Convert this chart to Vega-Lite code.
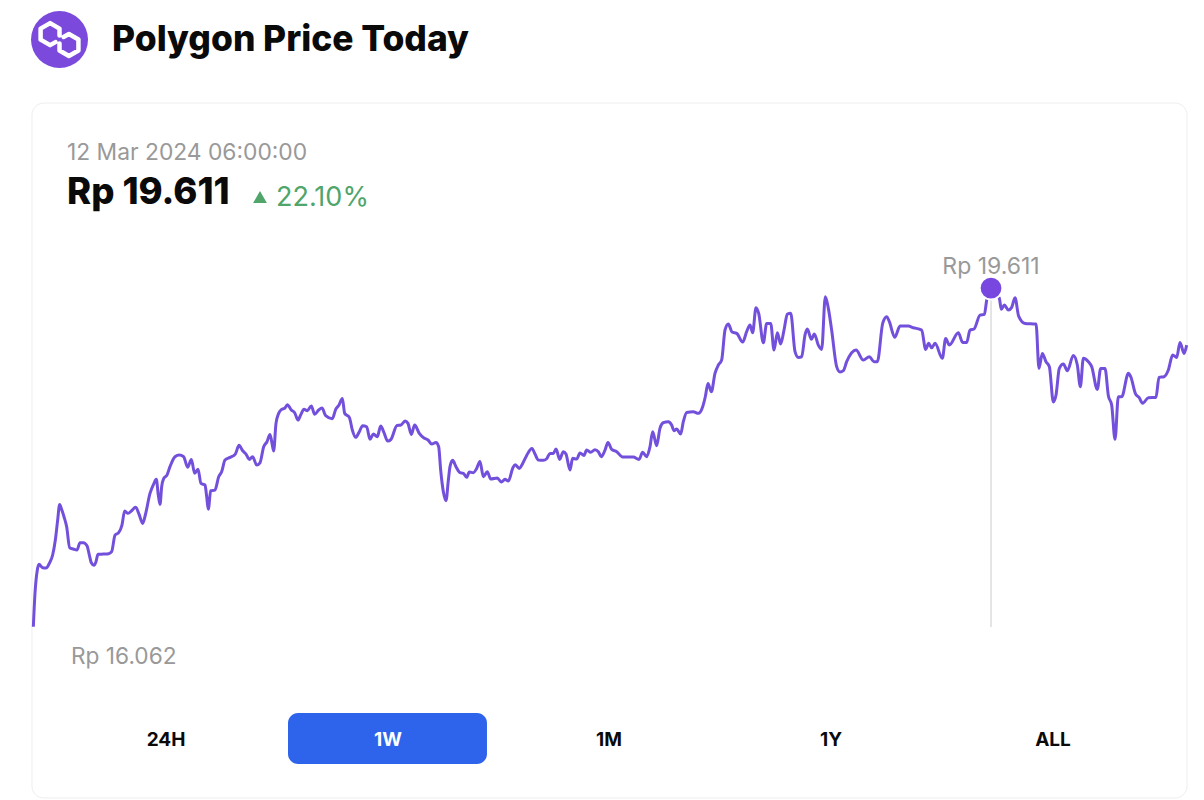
{
  "$schema": "https://vega.github.io/schema/vega-lite/v6.json",
  "autosize": {"type": "fit", "contains": "padding"},
  "width": 1204,
  "height": 800,
  "padding": 0,
  "background": "white",
  "config": {"view": {"stroke": null}, "text": {"font": "Inter"}},
  "data": {"values": [{}]},
  "datasets": {
    "marker": [{"hour": 139.45, "price": 19611, "low": 16062, "label": "Rp 19.611"}],
    "prices": [
      {"hour":0.05,"price":16065},{"hour":0.29,"price":16414},{"hour":0.63,"price":16659},{"hour":0.87,"price":16718},{"hour":1.41,"price":16683},{"hour":1.89,"price":16680},{"hour":2.38,"price":16729},{"hour":2.86,"price":16816},{"hour":3.25,"price":16973},{"hour":3.59,"price":17182},{"hour":3.88,"price":17346},{"hour":4.12,"price":17304},{"hour":4.51,"price":17217},{"hour":4.9,"price":17112},{"hour":5.34,"price":16892},{"hour":5.87,"price":16879},{"hour":6.4,"price":16868},{"hour":6.84,"price":16945},{"hour":7.33,"price":16945},{"hour":7.86,"price":16913},{"hour":8.2,"price":16816},{"hour":8.49,"price":16735},{"hour":8.88,"price":16708},{"hour":9.17,"price":16746},{"hour":9.46,"price":16823},{"hour":10.24,"price":16826},{"hour":11.01,"price":16830},{"hour":11.45,"price":16851},{"hour":11.94,"price":17025},{"hour":12.47,"price":17050},{"hour":12.95,"price":17130},{"hour":13.34,"price":17276},{"hour":13.83,"price":17252},{"hour":14.36,"price":17280},{"hour":14.94,"price":17315},{"hour":15.43,"price":17245},{"hour":15.96,"price":17147},{"hour":16.35,"price":17235},{"hour":17.03,"price":17461},{"hour":17.56,"price":17559},{"hour":17.95,"price":17608},{"hour":18.24,"price":17444},{"hour":18.49,"price":17346},{"hour":18.73,"price":17531},{"hour":19.02,"price":17615},{"hour":19.5,"price":17653},{"hour":19.94,"price":17741},{"hour":20.67,"price":17845},{"hour":21.3,"price":17863},{"hour":21.93,"price":17845},{"hour":22.51,"price":17734},{"hour":23.05,"price":17817},{"hour":23.53,"price":17671},{"hour":24.02,"price":17713},{"hour":24.45,"price":17566},{"hour":25.04,"price":17549},{"hour":25.28,"price":17427},{"hour":25.52,"price":17294},{"hour":25.86,"price":17489},{"hour":26.49,"price":17496},{"hour":27.03,"price":17636},{"hour":27.46,"price":17688},{"hour":27.95,"price":17810},{"hour":28.68,"price":17838},{"hour":29.45,"price":17873},{"hour":29.99,"price":17964},{"hour":30.52,"price":17908},{"hour":31.0,"price":17873},{"hour":31.49,"price":17817},{"hour":31.97,"price":17845},{"hour":32.56,"price":17758},{"hour":33.04,"price":17782},{"hour":33.58,"price":17950},{"hour":34.06,"price":18002},{"hour":34.5,"price":18079},{"hour":34.79,"price":17985},{"hour":35.03,"price":17905},{"hour":35.37,"price":18194},{"hour":35.76,"price":18299},{"hour":36.2,"price":18341},{"hour":36.68,"price":18355},{"hour":37.02,"price":18390},{"hour":37.6,"price":18334},{"hour":38.09,"price":18306},{"hour":38.57,"price":18229},{"hour":38.96,"price":18282},{"hour":39.45,"price":18341},{"hour":39.93,"price":18327},{"hour":40.51,"price":18376},{"hour":41.0,"price":18289},{"hour":41.58,"price":18334},{"hour":42.07,"price":18355},{"hour":42.6,"price":18275},{"hour":43.57,"price":18243},{"hour":44.06,"price":18341},{"hour":44.54,"price":18386},{"hour":45.03,"price":18456},{"hour":45.37,"price":18299},{"hour":46.05,"price":18257},{"hour":46.48,"price":18125},{"hour":46.97,"price":18048},{"hour":47.45,"price":18100},{"hour":47.99,"price":18170},{"hour":48.57,"price":18159},{"hour":49.05,"price":18027},{"hour":49.54,"price":18083},{"hour":50.12,"price":18055},{"hour":50.61,"price":18166},{"hour":51.09,"price":18097},{"hour":51.63,"price":18009},{"hour":52.11,"price":18027},{"hour":52.98,"price":18173},{"hour":53.57,"price":18177},{"hour":54.15,"price":18219},{"hour":54.58,"price":18194},{"hour":55.07,"price":18079},{"hour":55.55,"price":18177},{"hour":56.23,"price":18090},
      {"hour":56.91,"price":18041},{"hour":57.5,"price":18020},{"hour":58.03,"price":17978},{"hour":58.66,"price":17995},{"hour":59.05,"price":17950},{"hour":59.34,"price":17706},{"hour":59.73,"price":17479},{"hour":60.12,"price":17385},{"hour":60.46,"price":17601},{"hour":60.7,"price":17741},{"hour":61.09,"price":17807},{"hour":61.57,"price":17741},{"hour":62.15,"price":17678},{"hour":62.64,"price":17671},{"hour":63.12,"price":17629},{"hour":63.51,"price":17685},{"hour":64.09,"price":17678},{"hour":64.58,"price":17723},{"hour":65.06,"price":17796},{"hour":65.55,"price":17636},{"hour":66.13,"price":17688},{"hour":66.62,"price":17611},{"hour":67.59,"price":17622},{"hour":68.17,"price":17580},{"hour":68.7,"price":17608},{"hour":69.19,"price":17591},{"hour":69.82,"price":17723},{"hour":70.16,"price":17762},{"hour":70.79,"price":17723},{"hour":71.28,"price":17775},{"hour":71.86,"price":17859},{"hour":72.63,"price":17932},{"hour":73.07,"price":17873},{"hour":73.56,"price":17810},{"hour":74.28,"price":17807},{"hour":74.77,"price":17824},{"hour":75.25,"price":17880},{"hour":75.74,"price":17880},{"hour":76.13,"price":17926},{"hour":76.66,"price":17817},{"hour":77.19,"price":17898},{"hour":77.58,"price":17873},{"hour":78.16,"price":17706},{"hour":78.55,"price":17828},{"hour":79.14,"price":17821},{"hour":79.62,"price":17884},{"hour":80.2,"price":17859},{"hour":80.59,"price":17915},{"hour":81.17,"price":17891},{"hour":81.8,"price":17919},{"hour":82.29,"price":17898},{"hour":82.73,"price":17845},{"hour":83.26,"price":17915},{"hour":83.7,"price":17995},{"hour":84.23,"price":17922},{"hour":84.96,"price":17898},{"hour":85.83,"price":17842},{"hour":87.38,"price":17842},{"hour":88.21,"price":17817},{"hour":88.74,"price":17891},{"hour":89.32,"price":17845},{"hour":89.81,"price":17950},{"hour":90.2,"price":18107},{"hour":90.78,"price":17961},{"hour":91.26,"price":18142},{"hour":91.75,"price":18201},{"hour":92.48,"price":18212},{"hour":92.96,"price":18177},{"hour":93.3,"price":18118},{"hour":93.69,"price":18135},{"hour":94.27,"price":18083},{"hour":94.66,"price":18212},{"hour":95.15,"price":18309},{"hour":96.12,"price":18316},{"hour":96.84,"price":18299},{"hour":97.48,"price":18369},{"hour":97.86,"price":18473},{"hour":98.25,"price":18613},{"hour":98.74,"price":18526},{"hour":99.27,"price":18718},{"hour":99.76,"price":18805},{"hour":100.24,"price":18857},{"hour":100.73,"price":19172},{"hour":101.21,"price":19234},{"hour":101.75,"price":19151},{"hour":102.43,"price":19137},{"hour":103.3,"price":19046},{"hour":103.88,"price":19154},{"hour":104.37,"price":19224},{"hour":104.75,"price":19144},{"hour":105.24,"price":19405},{"hour":105.63,"price":19346},{"hour":106.31,"price":19039},{"hour":106.79,"price":19241},{"hour":107.38,"price":19241},{"hour":107.86,"price":18962},{"hour":108.35,"price":19144},{"hour":108.83,"price":19025},{"hour":109.32,"price":19172},{"hour":109.8,"price":19339},{"hour":110.29,"price":19346},{"hour":110.92,"price":18945},{"hour":111.4,"price":18885},
      {"hour":111.89,"price":18892},{"hour":112.37,"price":19119},{"hour":112.71,"price":19182},{"hour":113.3,"price":19074},{"hour":113.73,"price":19130},{"hour":114.31,"price":19014},{"hour":114.8,"price":18969},{"hour":115.33,"price":19520},{"hour":115.77,"price":19398},{"hour":116.25,"price":19171},{"hour":116.98,"price":18788},{"hour":117.47,"price":18732},{"hour":117.95,"price":18746},{"hour":118.44,"price":18840},{"hour":119.8,"price":18962},{"hour":120.86,"price":18857},{"hour":121.74,"price":18892},{"hour":122.42,"price":18840},{"hour":122.9,"price":18840},{"hour":123.68,"price":19241},{"hour":124.26,"price":19311},{"hour":124.65,"price":19259},{"hour":125.43,"price":19095},{"hour":126.2,"price":19213},{"hour":127.41,"price":19213},{"hour":128.14,"price":19196},{"hour":129.35,"price":19171},{"hour":129.94,"price":18969},{"hour":130.37,"price":19032},{"hour":130.81,"price":18986},{"hour":131.3,"price":19032},{"hour":132.36,"price":18875},{"hour":132.85,"price":19084},{"hour":133.38,"price":19014},{"hour":134.69,"price":19143},{"hour":135.32,"price":19042},{"hour":135.91,"price":19042},{"hour":136.39,"price":19171},{"hour":136.97,"price":19182},{"hour":137.85,"price":19328},{"hour":138.48,"price":19335},{"hour":138.82,"price":19485},{"hour":139.45,"price":19611},{"hour":140.66,"price":19503},{"hour":140.95,"price":19388},{"hour":141.39,"price":19433},{"hour":141.97,"price":19381},{"hour":142.46,"price":19409},{"hour":142.94,"price":19510},{"hour":143.47,"price":19318},{"hour":144.4,"price":19241},{"hour":146.0,"price":19234},{"hour":146.43,"price":18770},{"hour":146.92,"price":18927},{"hour":147.45,"price":18840},{"hour":147.94,"price":18788},{"hour":148.52,"price":18418},{"hour":148.91,"price":18491},{"hour":149.39,"price":18770},{"hour":149.98,"price":18815},{"hour":150.56,"price":18746},{"hour":151.43,"price":18906},{"hour":152.01,"price":18805},{"hour":152.45,"price":18578},{"hour":152.89,"price":18875},{"hour":153.62,"price":18840},{"hour":154.1,"price":18788},{"hour":154.92,"price":18550},{"hour":155.41,"price":18770},{"hour":156.04,"price":18770},{"hour":156.53,"price":18484},{"hour":157.01,"price":18386},{"hour":157.5,"price":18027},{"hour":157.98,"price":18473},{"hour":158.47,"price":18473},{"hour":159.44,"price":18718},{"hour":159.78,"price":18683},{"hour":160.5,"price":18501},{"hour":160.99,"price":18466},{"hour":161.52,"price":18404},{"hour":162.35,"price":18463},{"hour":163.46,"price":18466},{"hour":163.9,"price":18676},{"hour":164.63,"price":18683},{"hour":165.26,"price":18753},{"hour":165.89,"price":18910},{"hour":166.47,"price":18885},{"hour":166.96,"price":19042},{"hour":167.54,"price":18927},{"hour":167.93,"price":19014}
    ]
  },
  "layer": [
    {
      "mark": {"type": "rect", "fill": "white", "stroke": "#eeeeee", "strokeWidth": 1, "cornerRadius": 12},
      "encoding": {
        "x": {"datum": -0.15, "type": "quantitative", "axis": null, "scale": {"domain": [-4.803, 170.45], "nice": false, "zero": false}},
        "x2": {"datum": 167.98},
        "y": {"datum": 21548, "type": "quantitative", "axis": null, "scale": {"domain": [14251, 22627], "nice": false, "zero": false}},
        "y2": {"datum": 14272}
      }
    },
    {
      "mark": {"type": "point", "shape": "circle", "filled": true, "size": 3249, "color": "#7B4ADD", "opacity": 1},
      "encoding": {"x": {"datum": 3.86}, "y": {"datum": 22213}}
    },
    {
      "mark": {
        "type": "point",
        "shape": "M0 -.2L0 -.545L-.47 -.82L-.946 -.545L-.946 .005L-.47 .28L-.2 .13M0 .2L0 .545L.47 .82L.946 .545L.946 -.005L.47 -.28L.2 -.13",
        "filled": false,
        "size": 1600,
        "stroke": "white",
        "strokeWidth": 4.5,
        "strokeJoin": "round",
        "strokeCap": "round",
        "opacity": 1
      },
      "encoding": {"x": {"datum": 3.86}, "y": {"datum": 22213}}
    },
    {
      "mark": {"type": "text", "align": "left", "baseline": "middle", "font": "Inter", "fontSize": 35.4, "fontWeight": 800, "color": "#0a0a0a"},
      "encoding": {"x": {"datum": 11.5}, "y": {"datum": 22208}, "text": {"value": "Polygon Price Today"}}
    },
    {
      "mark": {"type": "text", "align": "left", "baseline": "middle", "font": "Inter", "fontSize": 22.8, "color": "#999999"},
      "encoding": {"x": {"datum": 4.95}, "y": {"datum": 21025}, "text": {"value": "12 Mar 2024 06:00:00"}}
    },
    {
      "mark": {"type": "text", "align": "left", "baseline": "middle", "font": "Inter", "fontSize": 36.5, "fontWeight": 800, "color": "#0a0a0a"},
      "encoding": {"x": {"datum": 4.95}, "y": {"datum": 20606}, "text": {"value": "Rp 19.611"}}
    },
    {
      "mark": {"type": "point", "shape": "triangle-up", "filled": true, "size": 190, "color": "#4FA56A", "opacity": 1},
      "encoding": {"x": {"datum": 33.04}, "y": {"datum": 20564}}
    },
    {
      "mark": {"type": "text", "align": "left", "baseline": "middle", "font": "Inter", "fontSize": 27, "color": "#4FA56A"},
      "encoding": {"x": {"datum": 35.37}, "y": {"datum": 20554}, "text": {"value": "22.10%"}}
    },
    {
      "data": {"name": "marker"},
      "mark": {"type": "rule", "color": "#cccccc", "strokeWidth": 1},
      "encoding": {"x": {"field": "hour", "type": "quantitative"}, "y": {"field": "price", "type": "quantitative"}, "y2": {"field": "low"}}
    },
    {
      "data": {"name": "prices"},
      "mark": {"type": "line", "color": "#7350DC", "strokeWidth": 3, "interpolate": "monotone"},
      "encoding": {"x": {"field": "hour", "type": "quantitative"}, "y": {"field": "price", "type": "quantitative"}}
    },
    {
      "data": {"name": "marker"},
      "mark": {"type": "point", "shape": "circle", "filled": true, "size": 520, "fill": "#7747E0", "stroke": "white", "strokeWidth": 2, "opacity": 1},
      "encoding": {"x": {"field": "hour", "type": "quantitative"}, "y": {"field": "price", "type": "quantitative"}}
    },
    {
      "data": {"name": "marker"},
      "mark": {"type": "text", "align": "center", "baseline": "middle", "font": "Inter", "fontSize": 23, "color": "#999999", "dy": -21},
      "encoding": {"x": {"field": "hour", "type": "quantitative"}, "y": {"field": "price", "type": "quantitative"}, "text": {"field": "label"}}
    },
    {
      "mark": {"type": "text", "align": "left", "baseline": "middle", "font": "Inter", "fontSize": 22.7, "color": "#999999"},
      "encoding": {"x": {"datum": 5.53}, "y": {"datum": 15748}, "text": {"value": "Rp 16.062"}}
    },
    {
      "mark": {"type": "rect", "fill": "#2D64EB", "cornerRadius": 10},
      "encoding": {"x": {"datum": 37.12}, "x2": {"datum": 66.08}, "y": {"datum": 15162}, "y2": {"datum": 14628}}
    },
    {
      "mark": {"type": "text", "align": "center", "baseline": "middle", "font": "Inter", "fontSize": 19, "fontWeight": 700, "color": "#0a0a0a"},
      "encoding": {"x": {"datum": 19.36}, "y": {"datum": 14879}, "text": {"value": "24H"}}
    },
    {
      "mark": {"type": "text", "align": "center", "baseline": "middle", "font": "Inter", "fontSize": 19, "fontWeight": 700, "color": "white"},
      "encoding": {"x": {"datum": 51.67}, "y": {"datum": 14879}, "text": {"value": "1W"}}
    },
    {
      "mark": {"type": "text", "align": "center", "baseline": "middle", "font": "Inter", "fontSize": 19, "fontWeight": 700, "color": "#0a0a0a"},
      "encoding": {"x": {"datum": 83.84}, "y": {"datum": 14879}, "text": {"value": "1M"}}
    },
    {
      "mark": {"type": "text", "align": "center", "baseline": "middle", "font": "Inter", "fontSize": 19, "fontWeight": 700, "color": "#0a0a0a"},
      "encoding": {"x": {"datum": 116.16}, "y": {"datum": 14879}, "text": {"value": "1Y"}}
    },
    {
      "mark": {"type": "text", "align": "center", "baseline": "middle", "font": "Inter", "fontSize": 19, "fontWeight": 700, "color": "#0a0a0a"},
      "encoding": {"x": {"datum": 148.47}, "y": {"datum": 14879}, "text": {"value": "ALL"}}
    }
  ]
}
